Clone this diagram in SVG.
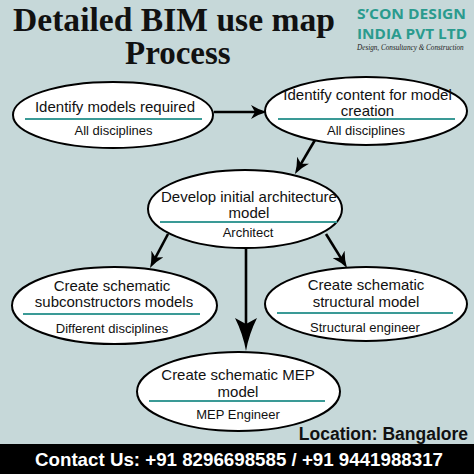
<svg xmlns="http://www.w3.org/2000/svg" width="474" height="474" viewBox="0 0 474 474">
<style>
.bg{fill:#c6d8d9}
.node ellipse{fill:#ffffff;stroke:#000000;stroke-width:2}
.node line{stroke:#3a9a96;stroke-width:2.2}
.t{font-family:"Liberation Sans",Arial,sans-serif;font-size:15px;fill:#111111;text-anchor:middle}
.r{font-family:"Liberation Sans",Arial,sans-serif;font-size:13px;fill:#111111;text-anchor:middle}
.title{font-family:"Liberation Serif","Times New Roman",serif;font-weight:bold;font-size:33px;fill:#111111}
.logo{font-family:"Open Sans","Liberation Sans",sans-serif;font-weight:bold;font-size:15px;fill:#2a9b8e}
.tag{font-family:"Liberation Serif",serif;font-style:italic;font-size:7.2px;fill:#222222}
.conn path{fill:none;stroke:#000000;stroke-width:2.6}
.loc{font-family:"Liberation Sans",Arial,sans-serif;font-weight:bold;font-size:17.5px;fill:#111111;text-anchor:end}
.contact{font-family:"Liberation Sans",Arial,sans-serif;font-weight:bold;font-size:18.5px;fill:#ffffff}
</style>
<defs>
<marker id="ah" viewBox="0 0 16 14" refX="10" refY="7" markerWidth="16" markerHeight="14" markerUnits="userSpaceOnUse" orient="auto">
<path d="M0,0 Q8,5 16,7 Q8,9 0,14 L4,7 Z" fill="#000000"/>
</marker>
<marker id="ahBig" viewBox="0 0 33 22" refX="23" refY="11" markerWidth="33" markerHeight="22" markerUnits="userSpaceOnUse" orient="auto">
<path d="M0,0 Q16,8 33,11 Q16,14 0,22 L6,11 Z" fill="#000000"/>
</marker>
</defs>
<rect class="bg" x="0" y="0" width="474" height="474"/>

<g id="title">
<text class="title" x="13" y="31" textLength="322" lengthAdjust="spacingAndGlyphs">Detailed BIM use map</text>
<text class="title" x="125" y="64">Process</text>
</g>

<g id="logo">
<text class="logo" x="357" y="18.5" textLength="109" lengthAdjust="spacingAndGlyphs">S’CON DESIGN</text>
<text class="logo" x="357" y="39" textLength="110" lengthAdjust="spacingAndGlyphs">INDIA PVT LTD</text>
<text class="tag" x="357" y="49.5">Design, Consultancy &amp; Construction</text>
</g>

<g id="connectors" class="conn">
<path d="M214,112 L261,112" marker-end="url(#ah)"/>
<path d="M315,140 L298,168.8" marker-end="url(#ah)"/>
<path d="M168,234 L152.8,262.7" marker-end="url(#ah)"/>
<path d="M326,234 L343.9,262.9" marker-end="url(#ah)"/>
<path d="M246,248 L246,341" stroke-width="3" marker-end="url(#ahBig)"/>
</g>

<g id="n1" class="node">
<ellipse cx="113" cy="115" rx="100" ry="33"/>
<text class="t" x="115" y="112">Identify models required</text>
<line x1="25" y1="119" x2="202" y2="119"/>
<text class="r" x="113.5" y="135">All disciplines</text>
</g>

<g id="n2" class="node">
<ellipse cx="366" cy="111" rx="101" ry="34"/>
<text class="t" x="367.5" y="99.5">Identify content for model</text>
<text class="t" x="367.5" y="116">creation</text>
<line x1="278" y1="119" x2="455" y2="119"/>
<text class="r" x="366" y="135">All disciplines</text>
</g>

<g id="n3" class="node">
<ellipse cx="245" cy="209" rx="97" ry="39"/>
<text class="t" x="249" y="201.5">Develop initial architecture</text>
<text class="t" x="249" y="218">model</text>
<line x1="160" y1="222" x2="337" y2="222"/>
<text class="r" x="248" y="237">Architect</text>
</g>

<g id="n4" class="node">
<ellipse cx="114.5" cy="305.5" rx="102.5" ry="38.5"/>
<text class="t" x="112" y="290.5">Create schematic</text>
<text class="t" x="114" y="307">subconstructors models</text>
<line x1="23" y1="314" x2="200" y2="314"/>
<text class="r" x="112" y="333">Different disciplines</text>
</g>

<g id="n5" class="node">
<ellipse cx="366" cy="304" rx="101" ry="37"/>
<text class="t" x="366" y="290">Create schematic</text>
<text class="t" x="366" y="306.5">structural model</text>
<line x1="277" y1="313" x2="453" y2="313"/>
<text class="r" x="365" y="332">Structural engineer</text>
</g>

<g id="n6" class="node">
<ellipse cx="238.5" cy="391.5" rx="101.5" ry="39.5"/>
<text class="t" x="238" y="380">Create schematic MEP</text>
<text class="t" x="238" y="396.5">model</text>
<line x1="149" y1="401" x2="325" y2="401"/>
<text class="r" x="238" y="419">MEP Engineer</text>
</g>

<g id="footer">
<text class="loc" x="468" y="440">Location: Bangalore</text>
<rect x="0" y="444" width="474" height="30" fill="#000000"/>
<text class="contact" x="35" y="466" textLength="408" lengthAdjust="spacingAndGlyphs">Contact Us: +91 8296698585 / +91 9441988317</text>
</g>
</svg>
